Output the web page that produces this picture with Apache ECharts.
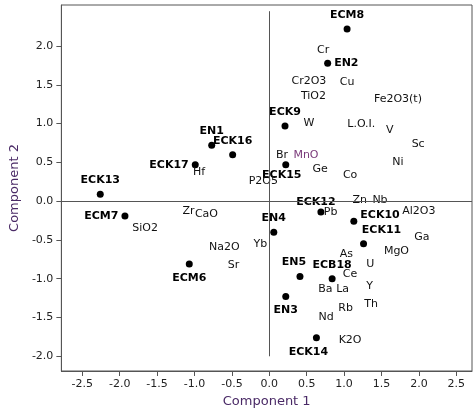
<!DOCTYPE html>
<html><head><meta charset="utf-8">
<script src="https://cdn.jsdelivr.net/npm/echarts@6/dist/echarts.min.js"></script>
<style>html,body{margin:0;padding:0;background:#fff}#c{width:474px;height:413px}</style>
</head><body><div id="c"></div>
<script>
const obsNames=['ECM8','EN2','ECK9','ECK16','EN1','ECK17','ECK13','ECM7','ECM6','ECK15','ECK12','ECK10','ECK11','EN4','EN5','ECB18','EN3','ECK14'];
const obsX=[1.04,0.78,0.21,-0.49,-0.77,-0.99,-2.26,-1.93,-1.07,0.22,0.69,1.13,1.26,0.06,0.41,0.84,0.22,0.63];
const obsY=[2.22,1.78,0.97,0.60,0.72,0.47,0.09,-0.19,-0.81,0.47,-0.14,-0.26,-0.55,-0.40,-0.97,-1.00,-1.23,-1.76];
const varNames=['Cr','Cr2O3','Cu','TiO2','Fe2O3(t)','W','L.O.I.','V','Sc','Br','MnO','Ni','Ge','Co','P2O5','Hf','Zn','Nb','Pb','Al2O3','Zr','CaO','SiO2','Na2O','Ga','MgO','Yb','As','U','Sr','Ce','Ba','La','Y','Rb','Th','Nd','K2O'];
const varX=[0.72,0.53,1.04,0.59,1.72,0.53,1.23,1.61,1.99,0.17,0.49,1.72,0.68,1.08,-0.08,-0.94,1.21,1.48,0.82,2.0,-1.08,-0.84,-1.66,-0.60,2.04,1.70,-0.12,1.03,1.35,-0.48,1.08,0.75,0.98,1.34,1.02,1.36,0.76,1.08];
const varY=[1.95,1.55,1.53,1.35,1.32,1.01,0.99,0.91,0.74,0.60,0.60,0.50,0.41,0.33,0.26,0.38,0.01,0.01,-0.14,-0.13,-0.13,-0.17,-0.35,-0.59,-0.46,-0.65,-0.56,-0.68,-0.81,-0.83,-0.94,-1.13,-1.13,-1.10,-1.38,-1.33,-1.49,-1.79];
const ticks=[-2.5,-2,-1.5,-1,-0.5,0,0.5,1,1.5,2,2.5];
const yTicks=[-2,-1.5,-1,-0.5,0,0.5,1,1.5,2];
const obsPos={ECM8:['top',[0,-2]],EN2:['right',[0,0]],ECK9:['top',[0,-2]],ECK16:['top',[0,-2]],EN1:['top',[0,-2]],ECK17:['left',[0,0]],ECK13:['top',[0,-2]],ECM7:['left',[0,0]],ECM6:['bottom',[0,2]],ECK15:['bottom',[-4,-2]],ECK12:['top',[-5,2]],ECK10:['right',[0,-6]],ECK11:['top',[18,-2]],EN4:['top',[0,-2]],EN5:['top',[-6,-2]],ECB18:['top',[0,-2]],EN3:['bottom',[0,2]],ECK14:['bottom',[-8,2]]};
const font='DejaVu Sans';
const fmt=v=>v.toFixed(1);
const chart=echarts.init(document.getElementById('c'));
chart.setOption({
  animation:false,
  textStyle:{fontFamily:font},
  grid:{left:45,right:2,top:5,bottom:40,show:true,borderColor:'#555',borderWidth:1,backgroundColor:'transparent'},
  xAxis:{type:'value',min:-2.78,max:2.71,splitLine:{show:false},
    axisLine:{onZero:false,lineStyle:{color:'#555'}},
    axisTick:{customValues:ticks,lineStyle:{color:'#555'}},
    axisLabel:{customValues:ticks,formatter:fmt,color:'#222',fontSize:11},
    name:'Component 1',nameLocation:'middle',nameGap:24,nameTextStyle:{color:'#4a2a66',fontSize:13}},
  yAxis:{type:'value',min:-2.19,max:2.53,splitLine:{show:false},
    axisLine:{show:true,onZero:false,lineStyle:{color:'#555'}},
    axisTick:{show:true,customValues:yTicks,lineStyle:{color:'#555'}},
    axisLabel:{customValues:yTicks,formatter:fmt,color:'#222',fontSize:11},
    name:'Component 2',nameLocation:'middle',nameGap:30,nameTextStyle:{color:'#4a2a66',fontSize:13}},
  series:[
    {type:'scatter',symbolSize:7,itemStyle:{color:'#000',opacity:1},
     data:obsNames.map((n,i)=>({value:[obsX[i],obsY[i]],label:{position:obsPos[n][0],offset:obsPos[n][1]}})),
     label:{show:true,formatter:p=>obsNames[p.dataIndex],fontWeight:'bold',fontSize:11,color:'#000',distance:3},
     markLine:{silent:true,symbol:'none',label:{show:false},lineStyle:{color:'#555',type:'solid',width:1},
       data:[[{coord:[0,2.45]},{coord:[0,-2.0]}],[{coord:[-2.78,0]},{coord:[2.71,0]}]]}},
    {type:'scatter',symbolSize:0,itemStyle:{opacity:1},
     data:varNames.map((n,i)=>({value:[varX[i],varY[i]],label:{color:n==='MnO'?'#7a3a7a':'#111'}})),
     label:{show:true,position:'inside',formatter:p=>varNames[p.dataIndex],fontSize:11}}
  ]
});
</script></body></html>
